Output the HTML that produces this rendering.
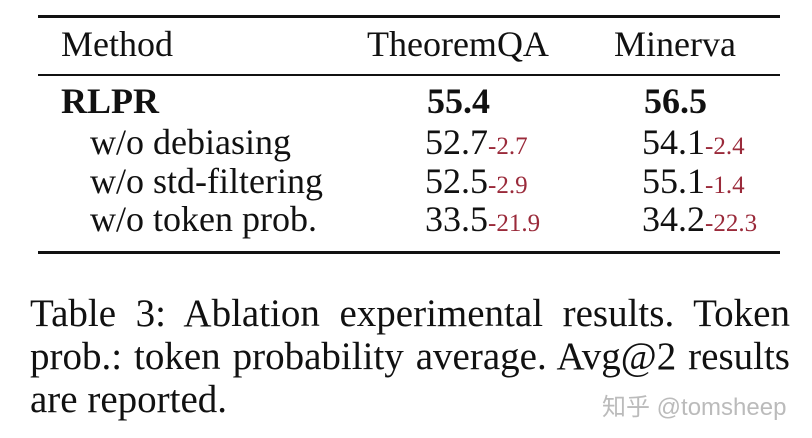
<!DOCTYPE html>
<html><head><style>
body{margin:0;width:812px;height:438px;background:#fff;position:relative;overflow:hidden;font-family:"Liberation Serif",serif;color:#111}
.r{position:absolute;left:38px;width:742px;background:#111}
.t{position:absolute;font-size:36px;white-space:nowrap;line-height:1}
.d{font-size:25px;color:#9a2a3a}
b{font-weight:bold}
.cap{position:absolute;left:30px;width:760px;font-size:39px;line-height:43px;text-align:justify;text-align-last:justify;white-space:nowrap}
</style></head><body>
<div class="r" style="top:15px;height:3px"></div>
<div class="r" style="top:74px;height:2px"></div>
<div class="r" style="top:251px;height:3px"></div>
<div class="t" style="left:61px;top:26px">Method</div>
<div class="t" style="left:367px;top:26px">TheoremQA</div>
<div class="t" style="left:614px;top:26px">Minerva</div>
<div class="t" style="left:61px;top:83px"><b>RLPR</b></div>
<div class="t" style="left:427px;top:83px"><b>55.4</b></div>
<div class="t" style="left:644px;top:83px"><b>56.5</b></div>
<div class="t" style="left:90px;top:124px">w/o debiasing</div>
<div class="t" style="left:425px;top:124px">52.7<span class="d">-2.7</span></div>
<div class="t" style="left:642px;top:124px">54.1<span class="d">-2.4</span></div>
<div class="t" style="left:90px;top:163px">w/o std-filtering</div>
<div class="t" style="left:425px;top:163px">52.5<span class="d">-2.9</span></div>
<div class="t" style="left:642px;top:163px">55.1<span class="d">-1.4</span></div>
<div class="t" style="left:90px;top:201px">w/o token prob.</div>
<div class="t" style="left:425px;top:201px">33.5<span class="d">-21.9</span></div>
<div class="t" style="left:642px;top:201px">34.2<span class="d">-22.3</span></div>
<div class="cap" style="top:292px;white-space:normal">Table 3: Ablation experimental results. Token</div>
<div class="cap" style="top:335px;white-space:normal">prob.: token probability average. Avg@2 results</div>
<div class="cap" style="top:378px;text-align-last:left">are reported.</div>
<div style="position:absolute;left:602px;top:387px;font-family:'Liberation Sans','Noto Sans CJK SC',sans-serif;font-size:24px;color:#bbb">知乎 @tomsheep</div>
</body></html>
